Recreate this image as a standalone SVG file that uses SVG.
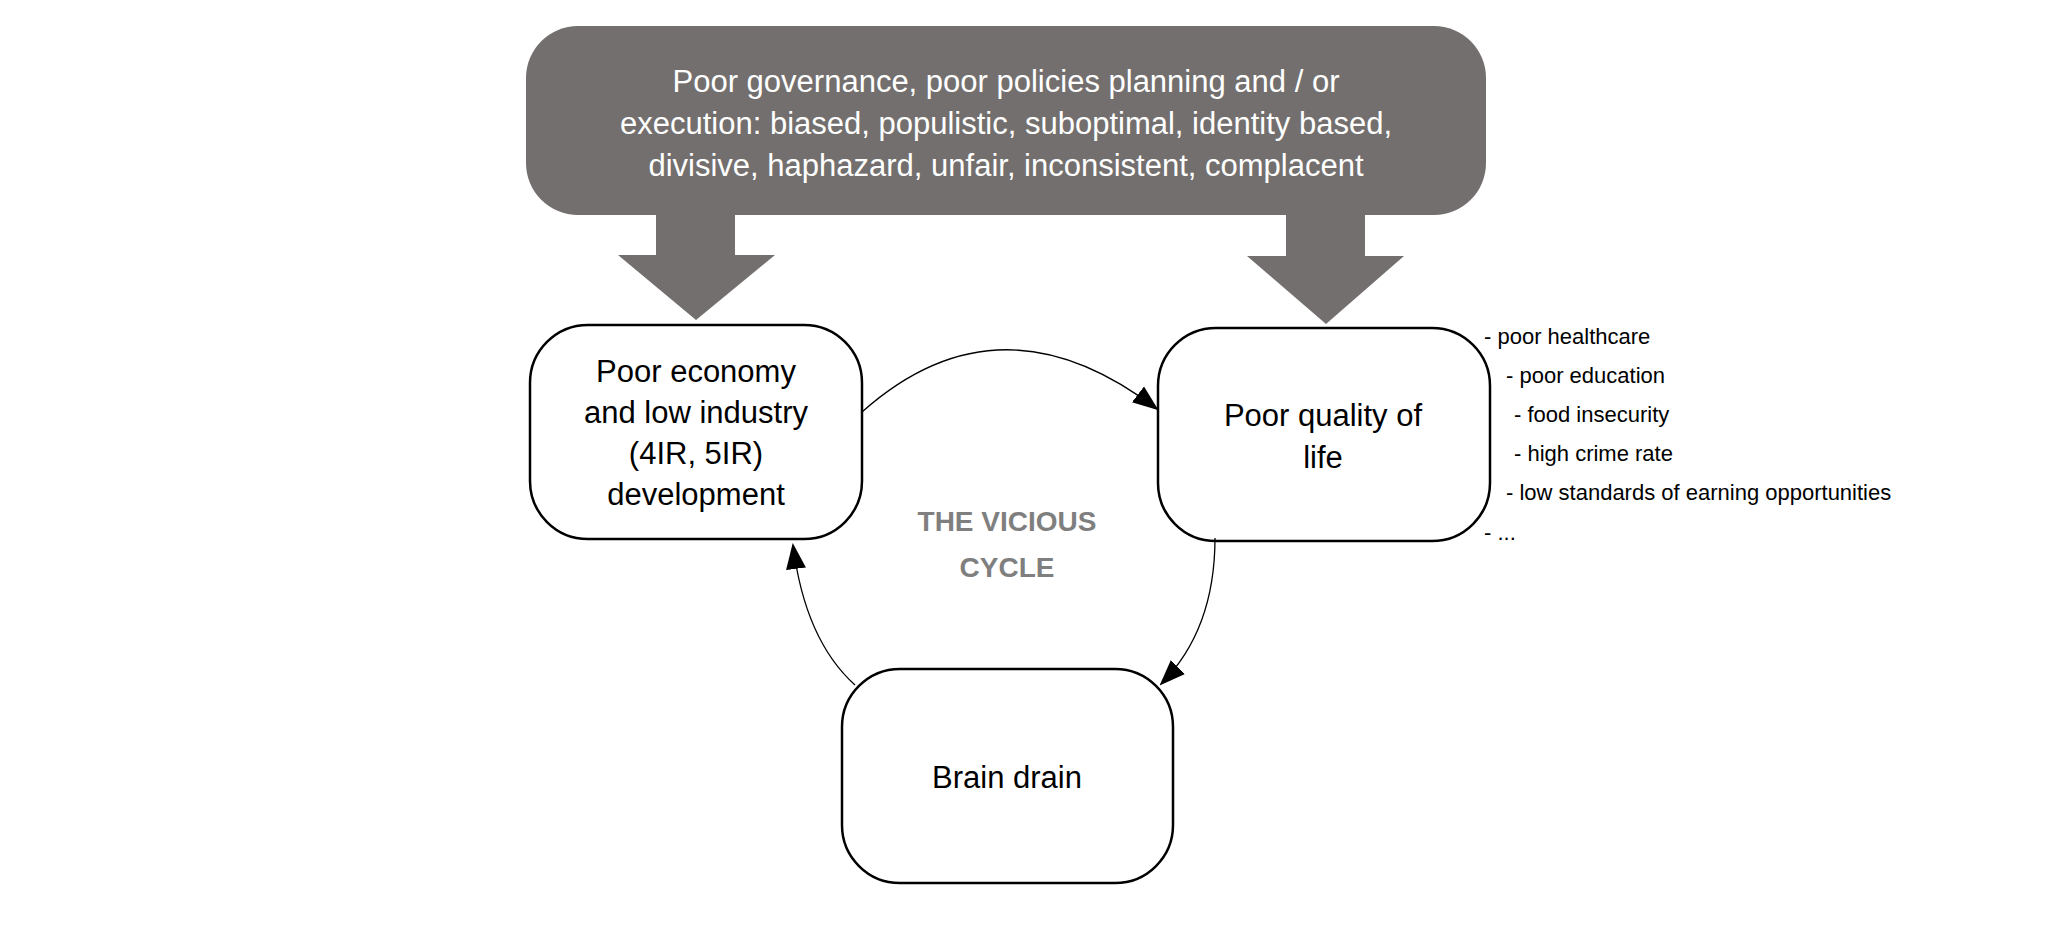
<svg xmlns="http://www.w3.org/2000/svg" width="2048" height="931" viewBox="0 0 2048 931">
<style>
.node{fill:#fff;stroke:#000;stroke-width:2.5}
.t{font-family:"Liberation Sans",Arial,sans-serif;font-size:31px;text-anchor:middle;fill:#000}
.w{fill:#fff}
.l{font-family:"Liberation Sans",Arial,sans-serif;font-size:22px;fill:#000}
.c{fill:none;stroke:#000;stroke-width:1.3}
</style>
<defs><marker id="a" markerWidth="10" markerHeight="10" refX="9" refY="5" orient="auto" markerUnits="userSpaceOnUse" viewBox="0 0 10 10"><path d="M0,0L10,5L0,10z"/></marker>
<marker id="m" markerWidth="26" markerHeight="26" refX="24" refY="10" orient="auto" markerUnits="userSpaceOnUse" viewBox="0 0 26 20"><path d="M0,0L26,10L0,20z"/></marker></defs>
<rect width="2048" height="931" fill="#fff"/>
<g id="governance" fill="#736f6e">
<rect x="526" y="26" width="960" height="189" rx="52"/>
<path d="M656,210H735V255H775L696,320L618,255H656Z"/>
<path d="M1286,210H1365V256H1404L1326,324L1247,256H1286Z"/>
<text class="t w" x="1006" y="92">Poor governance, poor policies planning and / or</text>
<text class="t w" x="1006" y="134">execution: biased, populistic, suboptimal, identity based,</text>
<text class="t w" x="1006" y="176">divisive, haphazard, unfair, inconsistent, complacent</text>
</g>
<g id="economy"><rect class="node" x="530" y="325" width="332" height="214" rx="58"/>
<text class="t" x="696" y="382">Poor economy</text><text class="t" x="696" y="423">and low industry</text><text class="t" x="696" y="464">(4IR, 5IR)</text><text class="t" x="696" y="505">development</text></g>
<g id="quality"><rect class="node" x="1158" y="328" width="332" height="213" rx="58"/>
<text class="t" x="1323" y="426">Poor quality of</text><text class="t" x="1323" y="468">life</text></g>
<g id="brain"><rect class="node" x="842" y="669" width="331" height="214" rx="58"/>
<text class="t" x="1007" y="788">Brain drain</text></g>
<g id="label"><text x="1007" y="531" font-family="'Liberation Sans',Arial,sans-serif" font-weight="bold" font-size="28" fill="#7f7f7f" text-anchor="middle">THE VICIOUS</text>
<text x="1007" y="577" font-family="'Liberation Sans',Arial,sans-serif" font-weight="bold" font-size="28" fill="#7f7f7f" text-anchor="middle">CYCLE</text></g>
<g id="list" class="l">
<text class="l" x="1484" y="344">- poor healthcare</text>
<text class="l" x="1506" y="383">- poor education</text>
<text class="l" x="1514" y="422">- food insecurity</text>
<text class="l" x="1514" y="461">- high crime rate</text>
<text class="l" x="1506" y="500">- low standards of earning opportunities</text>
<text class="l" x="1484" y="540">- ...</text>
</g>
<g id="connectors">
<path class="c" marker-end="url(#m)" d="M862,412Q1000,289 1157,409"/>
<path class="c" marker-end="url(#m)" d="M1215,538Q1215,630 1161,684"/>
<path class="c" marker-end="url(#m)" d="M855,685Q805,640 793,545"/>
</g>
</svg>
